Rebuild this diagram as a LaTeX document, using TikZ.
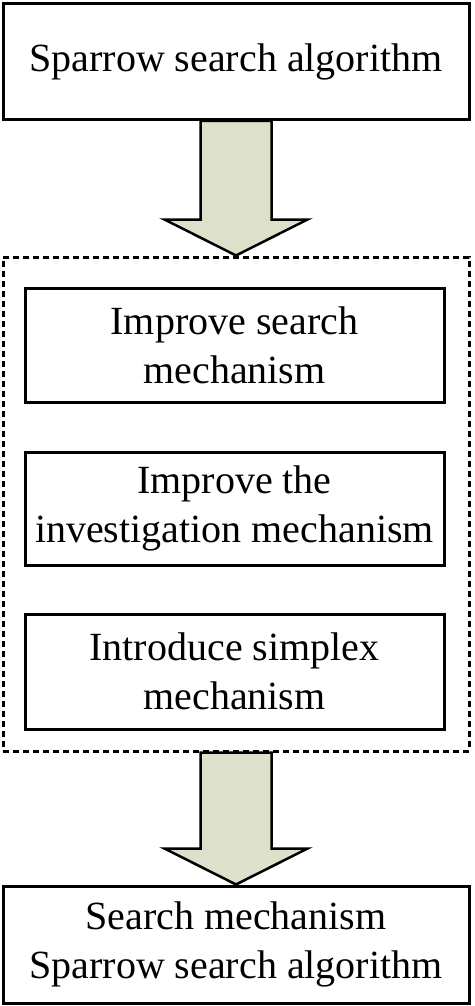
\documentclass[tikz,border=0pt]{standalone}
\usepackage{fontspec}
\setmainfont{Liberation Serif}
\usepackage{xcolor}
\usepackage{tikz}
\usetikzlibrary{positioning,calc}
\definecolor{arrowfill}{RGB}{221,224,203}
% fat block arrow from the bottom of #1 down to the top of #2
\newcommand{\fatarrow}[2]{%
  \draw[fatarr] ([xshift=-35.5pt]#1.south) -- ([xshift=-35.5pt,yshift=36pt]#2.north)
    -- ([xshift=-71.5pt,yshift=36pt]#2.north) -- (#2.north)
    -- ([xshift=71.5pt,yshift=36pt]#2.north) -- ([xshift=35.5pt,yshift=36pt]#2.north)
    -- ([xshift=35.5pt]#1.south) -- cycle;}

\begin{document}
\begin{tikzpicture}[
      x=1pt, y=1pt,
      box/.style={draw=black, line width=3pt, fill=white, align=center, inner sep=0pt,
                  font=\fontsize{40}{49}\selectfont},
      group/.style={draw=black, line width=3pt, dash pattern=on 6pt off 4pt, inner sep=0pt},
      fatarr/.style={draw=black, line width=2.5pt, fill=arrowfill, line join=miter}
    ]
      \useasboundingbox[fill=white] (0,0) rectangle (474,-1006);

      \node[box, minimum width=466pt, minimum height=116pt] (s1) at (236,-61.5) {Sparrow search algorithm};
      \node[group, minimum width=466pt, minimum height=494pt] (grp) at (236,-504) {};
      \node[box, minimum width=419pt, minimum height=114pt] (m1) at (234.5,-345) {Improve search\\mechanism};
      \node[box, minimum width=419pt, minimum height=113pt] (m2) at (234.5,-508.5) {Improve the\\investigation mechanism};
      \node[box, minimum width=419pt, minimum height=115pt] (m3) at (234.5,-671.5) {Introduce simplex\\mechanism};
      \node[box, minimum width=466pt, minimum height=117pt] (s2) at (236,-944.5) {Search mechanism\\Sparrow search algorithm};

      \fatarrow{s1}{grp}
      \fatarrow{grp}{s2}
    \end{tikzpicture}
\end{document}
